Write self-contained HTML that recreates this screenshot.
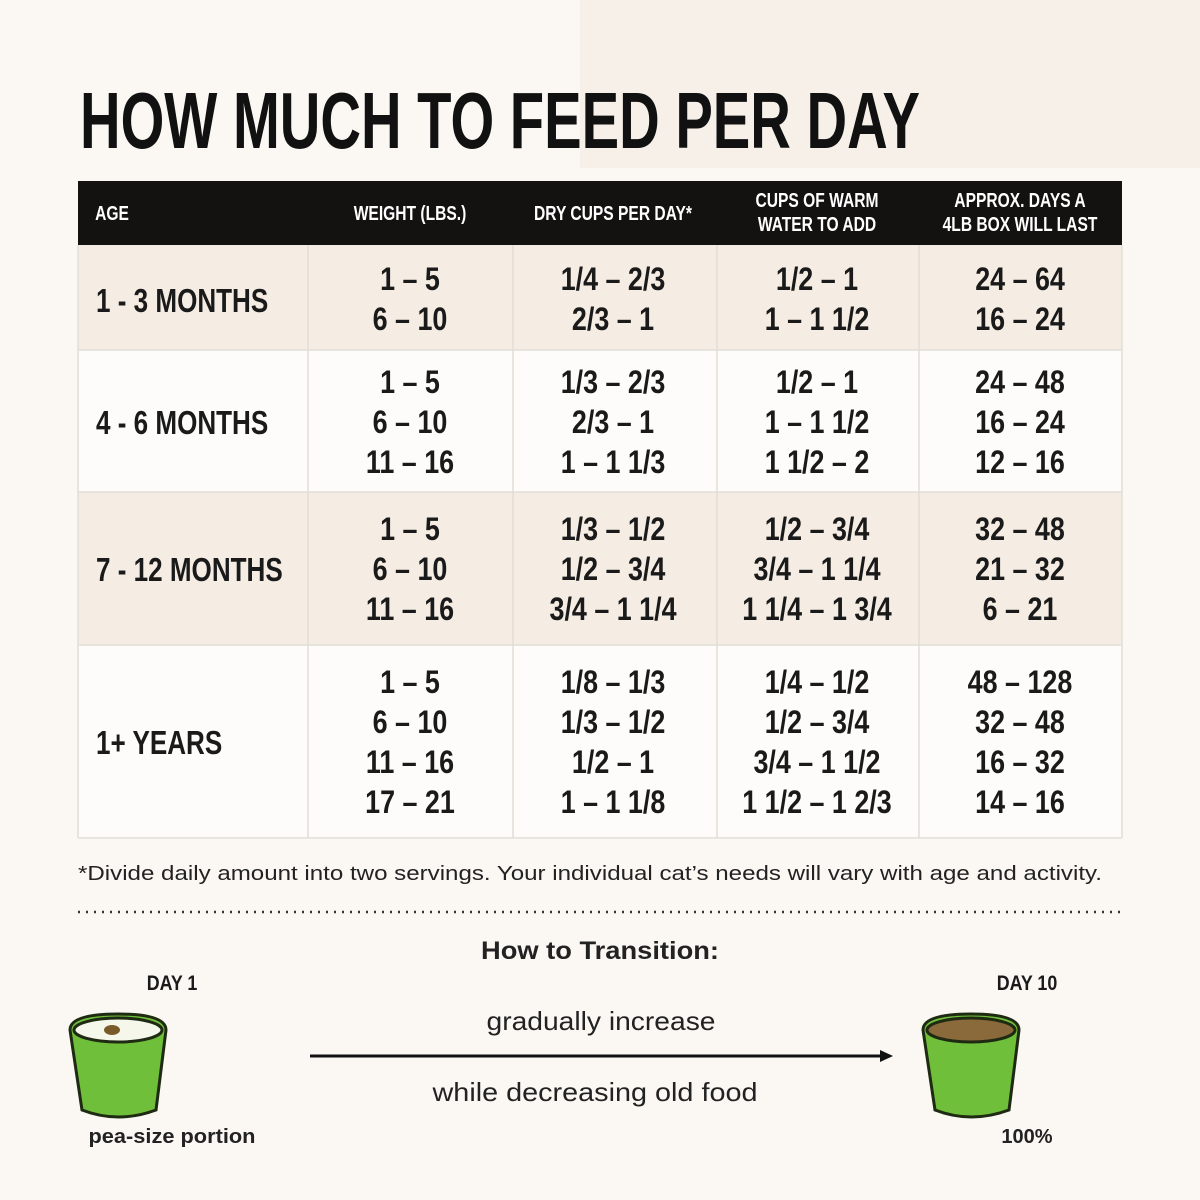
<!DOCTYPE html>
<html><head><meta charset="utf-8"><style>
html,body{margin:0;padding:0;background:#fbf8f4}
svg{display:block}
.c{font-family:"Liberation Sans Narrow","Liberation Sans",sans-serif;font-weight:bold}
.d text,.h text{transform-box:fill-box;transform-origin:center;}
.d text{transform:scaleX(0.84)}
.h text{transform:scaleX(0.78)}
.a text{transform-box:fill-box;transform-origin:left;transform:scaleX(0.79)}
.d{font-size:32px;fill:#1a1a1a;text-anchor:middle}
.a{font-size:33px;fill:#1a1a1a}
.h{font-size:20px;fill:#fff;text-anchor:middle}
.s{font-family:"Liberation Sans",sans-serif;fill:#222}
.sq{transform-box:fill-box;transform-origin:center;transform:scaleX(0.85)}
</style></head><body>
<svg width="1200" height="1200" viewBox="0 0 1200 1200" xmlns="http://www.w3.org/2000/svg">
<rect width="1200" height="1200" fill="#fbf8f4"/>
<rect x="580" y="0" width="620" height="168" fill="#f6f0e9"/>
<text class="c" x="80" y="148" font-size="80" fill="#111" textLength="840" lengthAdjust="spacingAndGlyphs">HOW MUCH TO FEED PER DAY</text>
<rect x="78" y="181" width="1044" height="64" fill="#141111"/>
<rect x="78" y="245" width="1044" height="105" fill="#f5ede4"/>
<rect x="78" y="350" width="1044" height="142" fill="#fdfcfa"/>
<rect x="78" y="492" width="1044" height="153" fill="#f5ede4"/>
<rect x="78" y="645" width="1044" height="193" fill="#fdfcfa"/>
<g stroke="#e2ddd6" stroke-width="1.5">
<line x1="78" y1="350" x2="1122" y2="350"/><line x1="78" y1="492" x2="1122" y2="492"/>
<line x1="78" y1="645" x2="1122" y2="645"/><line x1="78" y1="838" x2="1122" y2="838"/>
<line x1="78" y1="245" x2="78" y2="838"/><line x1="1122" y1="245" x2="1122" y2="838"/>
<line x1="308" y1="245" x2="308" y2="838"/><line x1="513" y1="245" x2="513" y2="838"/>
<line x1="717" y1="245" x2="717" y2="838"/><line x1="919" y1="245" x2="919" y2="838"/>
</g>
<g class="c h">
<text x="112" y="220">AGE</text>
<text x="410" y="220">WEIGHT (LBS.)</text>
<text x="613" y="220">DRY CUPS PER DAY*</text>
<text x="817" y="207">CUPS OF WARM</text><text x="817" y="231">WATER TO ADD</text>
<text x="1020" y="207">APPROX. DAYS A</text><text x="1020" y="231">4LB BOX WILL LAST</text>
</g>
<g class="c a">
<text x="96" y="312">1 - 3 MONTHS</text>
<text x="96" y="434">4 - 6 MONTHS</text>
<text x="96" y="581">7 - 12 MONTHS</text>
<text x="96" y="754">1+ YEARS</text>
</g>
<g class="c d">
<text x="410" y="290">1 – 5</text><text x="410" y="330">6 – 10</text>
<text x="613" y="290">1/4 – 2/3</text><text x="613" y="330">2/3 – 1</text>
<text x="817" y="290">1/2 – 1</text><text x="817" y="330">1 – 1 1/2</text>
<text x="1020" y="290">24 – 64</text><text x="1020" y="330">16 – 24</text>

<text x="410" y="393">1 – 5</text><text x="410" y="433">6 – 10</text><text x="410" y="473">11 – 16</text>
<text x="613" y="393">1/3 – 2/3</text><text x="613" y="433">2/3 – 1</text><text x="613" y="473">1 – 1 1/3</text>
<text x="817" y="393">1/2 – 1</text><text x="817" y="433">1 – 1 1/2</text><text x="817" y="473">1 1/2 – 2</text>
<text x="1020" y="393">24 – 48</text><text x="1020" y="433">16 – 24</text><text x="1020" y="473">12 – 16</text>

<text x="410" y="540">1 – 5</text><text x="410" y="580">6 – 10</text><text x="410" y="620">11 – 16</text>
<text x="613" y="540">1/3 – 1/2</text><text x="613" y="580">1/2 – 3/4</text><text x="613" y="620">3/4 – 1 1/4</text>
<text x="817" y="540">1/2 – 3/4</text><text x="817" y="580">3/4 – 1 1/4</text><text x="817" y="620">1 1/4 – 1 3/4</text>
<text x="1020" y="540">32 – 48</text><text x="1020" y="580">21 – 32</text><text x="1020" y="620">6 – 21</text>

<text x="410" y="693">1 – 5</text><text x="410" y="733">6 – 10</text><text x="410" y="773">11 – 16</text><text x="410" y="813">17 – 21</text>
<text x="613" y="693">1/8 – 1/3</text><text x="613" y="733">1/3 – 1/2</text><text x="613" y="773">1/2 – 1</text><text x="613" y="813">1 – 1 1/8</text>
<text x="817" y="693">1/4 – 1/2</text><text x="817" y="733">1/2 – 3/4</text><text x="817" y="773">3/4 – 1 1/2</text><text x="817" y="813">1 1/2 – 1 2/3</text>
<text x="1020" y="693">48 – 128</text><text x="1020" y="733">32 – 48</text><text x="1020" y="773">16 – 32</text><text x="1020" y="813">14 – 16</text>
</g>
<text class="s" x="78" y="880" font-size="20" textLength="1024" lengthAdjust="spacingAndGlyphs">*Divide daily amount into two servings. Your individual cat’s needs will vary with age and activity.</text>
<line x1="78" y1="912" x2="1122" y2="912" stroke="#333" stroke-width="2.5" stroke-dasharray="2 6"/>
<text class="s" x="600" y="959" font-size="25" font-weight="bold" text-anchor="middle" textLength="238" lengthAdjust="spacingAndGlyphs">How to Transition:</text>
<text class="c sq" x="172" y="990" font-size="21" text-anchor="middle" fill="#1a1a1a">DAY 1</text>
<text class="c sq" x="1027" y="990" font-size="21" text-anchor="middle" fill="#1a1a1a">DAY 10</text>
<text class="s" x="601" y="1030" font-size="26" text-anchor="middle" textLength="229" lengthAdjust="spacingAndGlyphs">gradually increase</text>
<text class="s" x="595" y="1101" font-size="26" text-anchor="middle" textLength="325" lengthAdjust="spacingAndGlyphs">while decreasing old food</text>
<line x1="310" y1="1056" x2="882" y2="1056" stroke="#111" stroke-width="3"/>
<polygon points="880,1050 893,1056 880,1062" fill="#111"/>
<g>
<path d="M70 1030 Q70 1014 118 1014 Q166 1014 166 1030 L156 1110 Q118 1124 82 1110 Z" fill="#6fbf3a" stroke="#1f2a12" stroke-width="3"/>
<ellipse cx="118" cy="1030" rx="44" ry="12" fill="#f4f7ea" stroke="#1f2a12" stroke-width="3"/>
<ellipse cx="112" cy="1030" rx="8" ry="5" fill="#7a5a2a"/>
</g>
<g>
<path d="M923 1030 Q923 1014 971 1014 Q1019 1014 1019 1030 L1009 1110 Q971 1124 935 1110 Z" fill="#6fbf3a" stroke="#1f2a12" stroke-width="3"/>
<ellipse cx="971" cy="1030" rx="44" ry="12" fill="#8a6a3a" stroke="#1f2a12" stroke-width="3"/>
</g>
<text class="s" x="172" y="1143" font-size="20" font-weight="bold" text-anchor="middle" textLength="167" lengthAdjust="spacingAndGlyphs">pea-size portion</text>
<text class="s" x="1027" y="1143" font-size="20" font-weight="bold" text-anchor="middle">100%</text>
</svg>
</body></html>
